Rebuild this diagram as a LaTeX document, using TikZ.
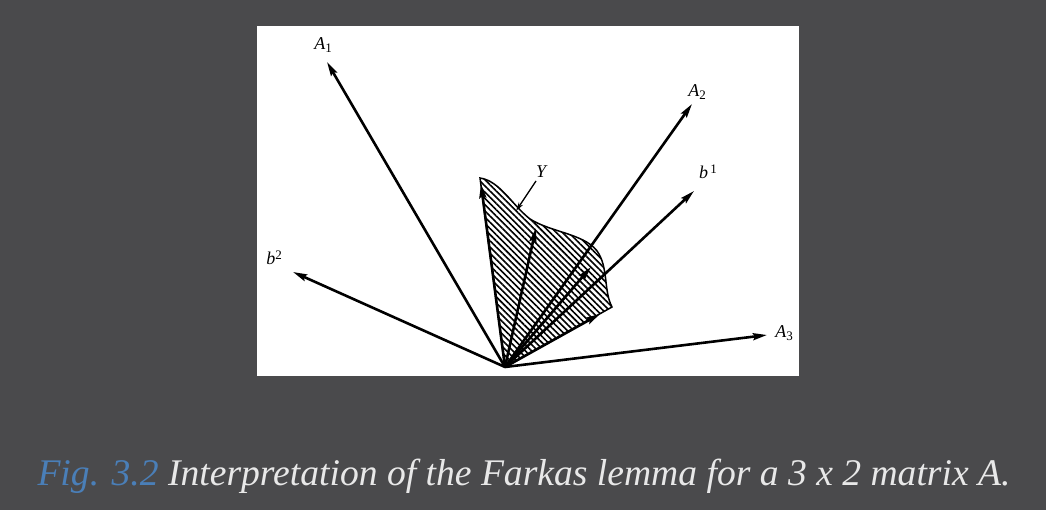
\documentclass[tikz,border=0pt]{standalone}
\usepackage{fontspec}
\newfontfamily\lblfont{Liberation Serif}
\usetikzlibrary{arrows.meta,patterns.meta}
\definecolor{bgdark}{HTML}{4A4A4C}
\definecolor{figblue}{HTML}{4A7FB8}
\definecolor{capgray}{HTML}{E8E8E8}
\newcommand{\vlab}[3]{{\itshape #1}\raisebox{#3}{\fontsize{13}{13}\selectfont\upshape #2}}
\tikzset{
  vec/.style={line width=2.6pt,-{Stealth[length=14pt,width=7pt,inset=2pt]}},
  lbl/.style={inner sep=0pt,font=\lblfont\fontsize{18}{20}\selectfont},
  hatch/.style={pattern={Lines[angle=-45,distance=4.4pt,line width=1.6pt]},draw,line width=1.5pt}
}
\begin{document}
\begin{tikzpicture}[x=1pt,y=-1pt]
\useasboundingbox (0,0) rectangle (1046,510);
\fill[bgdark] (0,0) rectangle (1046,510);
\fill[white] (257,26) rectangle (799,376);
% points
\coordinate (O) at (505,367);
\coordinate (tA1) at (327,62);
\coordinate (tA2) at (692,104);
\coordinate (tA3) at (767,335);
\coordinate (tb1) at (694,191);
\coordinate (tb2) at (293,272);
\coordinate (ty1) at (481,184);
\coordinate (ty2) at (536,228);
\coordinate (ty3) at (591,267);
\coordinate (ty4) at (600,314);
\coordinate (ytop) at (480,178);
\coordinate (ycorner) at (612,307);
% region Y
\path[hatch] (O) -- (ytop) .. controls (500,181) and (512,205) .. (530,219)
  .. controls (552,233) and (588,234) .. (599,254)
  .. controls (608,270) and (604,292) .. (ycorner) -- cycle;
% vectors
\draw[vec] (O) -- (tA1);
\draw[vec] (O) -- (tA2);
\draw[vec] (O) -- (tA3);
\draw[vec] (O) -- (tb1);
\draw[vec] (O) -- (tb2);
\draw[vec] (O) -- (ty1);
\draw[vec] (O) -- (ty2);
\draw[vec] (O) -- (ty3);
\draw[vec] (O) -- (ty4);
% labels
\node[lbl] (LA1) at (323,45) {\vlab{A}{1}{-3pt}};
\node[lbl] (LA2) at (697,92) {\vlab{A}{2}{-3pt}};
\node[lbl] (LA3) at (784,333) {\vlab{A}{3}{-3pt}};
\node[lbl] (Lb1) at (708,172) {\vlab{b}{\,1}{5pt}};
\node[lbl] (Lb2) at (274,258) {\vlab{b}{2}{5pt}};
\node[lbl] (LY) at (541,172) {\itshape Y};
\coordinate (ys) at (536,181);
\coordinate (ypt) at (516,211);
\draw[line width=1.3pt,-{Stealth[length=9pt,width=5pt]}] (ys) -- (ypt);
% caption
\node[inner sep=0pt,anchor=base,font=\lblfont\fontsize{37.6}{42}\selectfont\itshape] (cap) at (524,485)
  {\textcolor{figblue}{Fig. 3.2} \textcolor{capgray}{Interpretation of the Farkas lemma for a 3 x 2 matrix A.}};
\end{tikzpicture}
\end{document}
